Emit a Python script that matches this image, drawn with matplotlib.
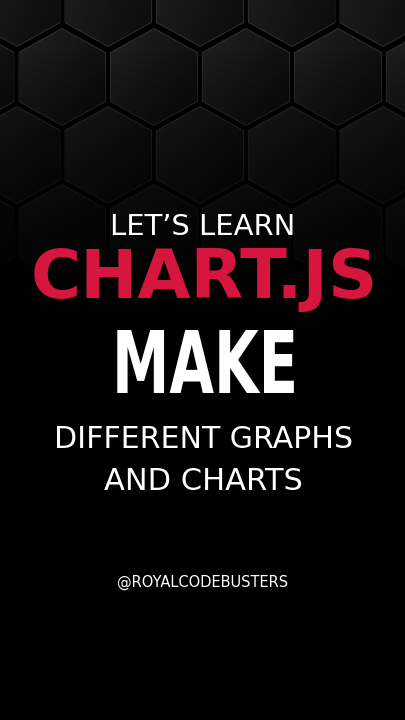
import numpy as np
from matplotlib import pyplot as plt
from matplotlib.patches import Polygon
from matplotlib import patheffects
from matplotlib.transforms import Affine2D

W, H = 405, 720

# hexagon grid (pixel units): row centre y, column centre x
hex_rows = [-2, 77, 155, 233]
hex_cols_even = [17, 108, 200, 292, 383]
hex_cols_odd = [-29, 62, 154, 246, 338, 430]
hex_halfw = 46
hex_r = 51

# texts: (string, centre x, baseline y, target width, cap height, colour, weight)
lines = [
    ("LET\u2019S LEARN", 203, 235, 185, None, "white", "normal"),
    ("CHART.JS", 204, 298, 347, None, "#d6163f", "bold"),
    ("MAKE", 205, 393, 186, 63, "white", "bold"),
    ("DIFFERENT GRAPHS", 203, 448, 299, None, "white", "normal"),
    ("AND CHARTS", 203, 490, 199, None, "white", "normal"),
    ("@ROYALCODEBUSTERS", 203, 587, 171, None, "white", "normal"),
]


class SqueezeX(patheffects.AbstractPathEffect):
    """Scale the drawn text horizontally about a fixed display x."""

    def __init__(self, sx, cx):
        super().__init__()
        self.sx = sx
        self.cx = cx

    def draw_path(self, renderer, gc, tpath, affine, rgbFace=None):
        squeeze = Affine2D().translate(-self.cx, 0).scale(self.sx, 1).translate(self.cx, 0)
        renderer.draw_path(gc, tpath, affine + squeeze, rgbFace)


def hex_verts(cx, cy):
    return [(cx, cy - hex_r), (cx + hex_halfw, cy - hex_r / 2),
            (cx + hex_halfw, cy + hex_r / 2), (cx, cy + hex_r),
            (cx - hex_halfw, cy + hex_r / 2), (cx - hex_halfw, cy - hex_r / 2)]


def fit_text(ax, s, x, y, width, cap, color, weight):
    t = ax.text(x, y, s, color=color, family='DejaVu Sans', fontweight=weight,
                fontsize=20, ha='center', va='baseline', zorder=5)
    r = ax.figure.canvas.get_renderer()
    if cap is None:
        w = t.get_window_extent(renderer=r).width
        t.set_fontsize(20 * width / w)
    else:
        # DejaVu cap height is ~0.729 em; 1 pt = 100/72 px
        t.set_fontsize(cap / 0.729 * 72 / 100)
        w = t.get_window_extent(renderer=r).width
        cx = ax.transData.transform((x, y))[0]
        t.set_path_effects([SqueezeX(width / w, cx)])
    return t


fig = plt.figure(figsize=(W / 100, H / 100), dpi=100, facecolor='black')
ax = fig.add_axes([0, 0, 1, 1])
ax.set_xlim(0, W)
ax.set_ylim(H, 0)
ax.set_facecolor('black')
ax.axis('off')

# diagonal gradient used inside every hexagon
gy, gx = np.mgrid[0:1:40j, 0:1:40j]
grad = 0.13 - 0.09 * (0.65 * gx + 0.35 * gy)

for i, cy in enumerate(hex_rows):
    cols = hex_cols_even if i % 2 == 0 else hex_cols_odd
    for cx in cols:
        poly = Polygon(hex_verts(cx, cy), closed=True, facecolor='none',
                       edgecolor='none')
        ax.add_patch(poly)
        im = ax.imshow(grad, cmap='gray', vmin=0, vmax=1, aspect='auto',
                       extent=(cx - hex_halfw, cx + hex_halfw,
                               cy + hex_r, cy - hex_r), zorder=1)
        im.set_clip_path(poly)
        # faint highlight just inside the seam
        inner = [(cx + 0.95 * (vx - cx), cy + 0.95 * (vy - cy))
                 for vx, vy in hex_verts(cx, cy)]
        ax.add_patch(Polygon(inner, closed=True, facecolor='none',
                             edgecolor='#303030', lw=0.7, zorder=2))
        ax.add_patch(Polygon(hex_verts(cx, cy), closed=True, facecolor='none',
                             edgecolor='#000000', lw=2.2, zorder=3))

# fade the pattern into black toward the bottom
yy = np.linspace(0, H, 300)
alpha = np.clip((yy - 50) / 260, 0, 1) ** 0.9
fade = np.zeros((300, 1, 4))
fade[:, 0, 3] = alpha
ax.imshow(fade, extent=(0, W, H, 0), aspect='auto', zorder=4)

for s, x, y, w, cap, c, wt in lines:
    fit_text(ax, s, x, y, w, cap, c, wt)

ax.set_xlim(0, W)
ax.set_ylim(H, 0)
fig.savefig('out.png', dpi=100, facecolor='black')
